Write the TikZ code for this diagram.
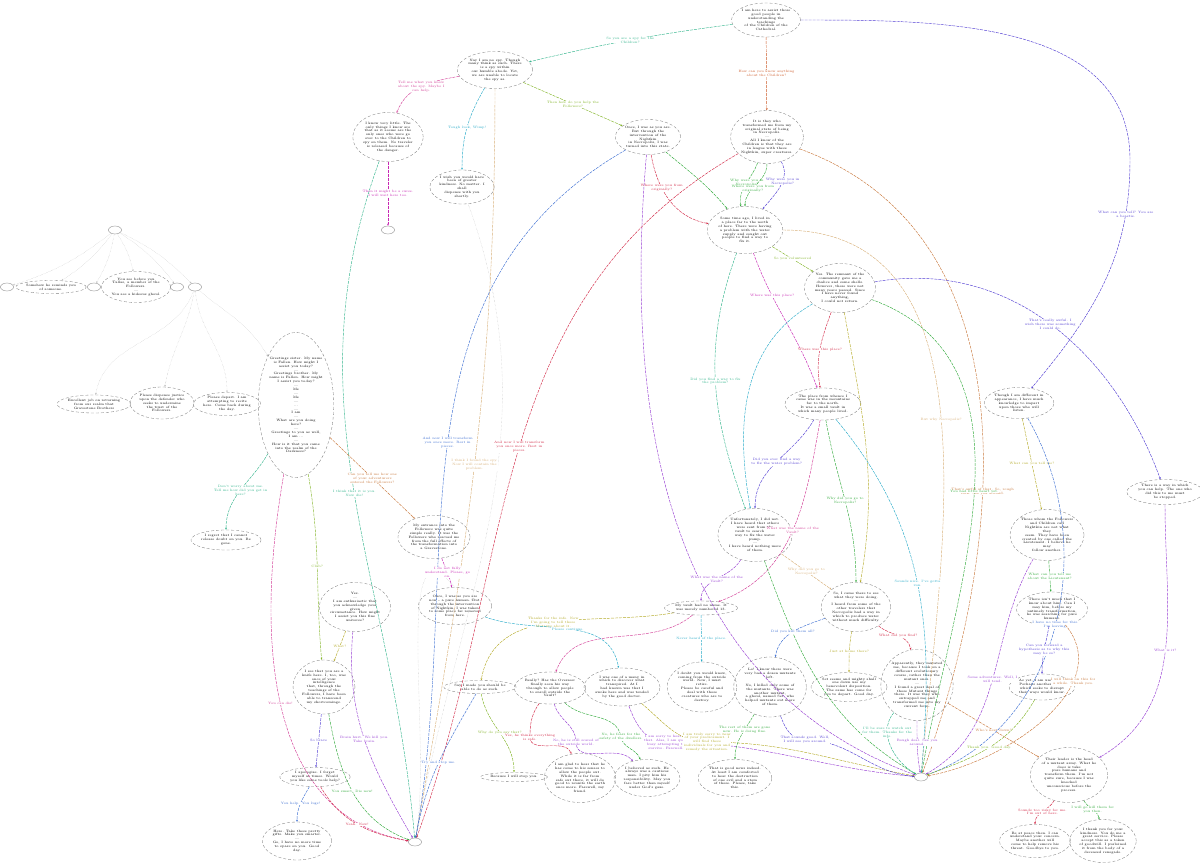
\documentclass[tikz,border=0pt]{standalone}
\usetikzlibrary{shapes.geometric,arrows.meta}
\definecolor{cTeal}{RGB}{50,180,140}
\definecolor{cOrange}{RGB}{205,90,40}
\definecolor{cBlue}{RGB}{80,60,210}
\definecolor{cPink}{RGB}{210,60,150}
\definecolor{cCyan}{RGB}{40,170,200}
\definecolor{cGreen}{RGB}{50,170,60}
\definecolor{cLime}{RGB}{130,180,40}
\definecolor{cRed}{RGB}{210,40,70}
\definecolor{cPurple}{RGB}{150,60,210}
\definecolor{cTan}{RGB}{215,175,120}
\definecolor{cOlive}{RGB}{180,170,40}
\definecolor{cGrey}{RGB}{185,185,185}
\definecolor{cRoyal}{RGB}{60,110,210}
\definecolor{cBrown}{RGB}{200,120,60}
\definecolor{cMag}{RGB}{200,40,180}
\tikzset{
 el/.style={ellipse,draw=gray,densely dashed,line width=0.35pt,inner sep=0pt,align=center,font=\fontsize{3.3}{3.9}\selectfont},
 dot/.style={ellipse,draw=gray,line width=0.35pt,minimum width=13,minimum height=8,inner sep=0pt},
 ed/.style={line width=0.45pt,dashed,dash pattern=on 3pt off 1pt,-{Stealth[length=2.2pt,width=1.8pt]}},
 gr/.style={line width=0.35pt,cGrey,densely dotted,-{Stealth[length=2pt,width=1.6pt]}},
 lb/.style={font=\fontsize{3.3}{3.9}\selectfont,align=center,fill=white,inner sep=0.3pt}
}
\newcommand\E[5][]{\draw[ed,#4,#1] (#2) to node[lb]{#5} (#3);}
\newcommand\Ep[6][]{\draw[ed,#4,#1] (#2) to node[lb,pos=#5]{#6} (#3);}
\begin{document}
\begin{tikzpicture}[x=1pt,y=-1pt]
\path[use as bounding box] (0,0) rectangle (1200,864);
% nodes
\node[el,minimum width=64,minimum height=34] (A) at (766,20) {I am here to assist those\\good people in\\understanding the\\teachings\\of the Children of the\\Cathedral.};
\node[el,minimum width=68,minimum height=37] (B) at (495,70) {Nay I am no spy. Though\\many think as such. There\\is a spy within\\our humble abode. Yet,\\we are unable to locate\\the spy as.};
\node[el,minimum width=65,minimum height=49] (C) at (388,137) {I know very little. The\\only things I know are\\that as it seems are the\\only ones who were go\\over to the Children to\\spy on them. No traveler\\is released because of\\the danger.};
\node[dot] (E) at (388,230) {};
\node[el,minimum width=55,minimum height=34] (D) at (462,187) {I wish you would have\\been of greater\\kindness. No matter. I\\shall\\dispense with you\\shortly.};
\node[el,minimum width=60,minimum height=35] (F) at (648,137) {Once, I was as you are.\\But through the\\intervention of the\\Nightkin\\in Necropolis, I was\\turned into this state.};
\node[el,minimum width=66,minimum height=53] (G) at (767,137) {It is they who\\transformed me from my\\original state of being\\in Necropolis.\\---\\All I know of the\\Children is that they are\\in league with these\\Nightkin, super creatures.};
\node[el,minimum width=66,minimum height=47] (H) at (745,230) {Some time ago, I lived in\\a place far to the north\\of here. There were having\\a problem with the water\\supply and sought out\\people to find a way to\\fix it.};
\node[el,minimum width=60,minimum height=49] (I) at (840,288) {Yes. The remnant of the\\community gave me a\\chalice and some shells.\\However, these were not\\many years passed. Since\\I have never found\\anything,\\I could not return.};
\node[el,minimum width=65,minimum height=32] (J) at (823,404) {The place from whence I\\came was in the mountains\\far to the north.\\It was a small vault in\\which many people lived.};
\node[el,minimum width=60,minimum height=31] (K) at (1019,403) {Though I am different in\\appearance, I have much\\knowledge to impart\\upon those who will\\listen.};
\node[el,minimum width=67,minimum height=25] (L) at (1165,492) {There is a way in which\\you can help. The one who\\did this to me must\\be stopped.};
\node[el,minimum width=59,minimum height=53] (M) at (755,535) {Unfortunately, I did not.\\I have heard that others\\were sent from the\\vault to search for a\\way to fix the water\\pump.\\---\\I have heard nothing more\\of them.};
\node[el,minimum width=68,minimum height=51] (N) at (1047,535) {Those whom the Followers\\and Children call\\Nightkin are not what\\they\\seem. They have been\\created by one called the\\Lieutenant. I believe he\\may\\follow another.};
\node[el,minimum width=64,minimum height=49] (O) at (856,607) {So, I came there to see\\what they were doing.\\---\\I heard from some of the\\other travelers that\\Necropolis had a way in\\which to produce water\\without much difficulty.};
\node[el,minimum width=67,minimum height=14] (P) at (701,608) {My vault had no name. It\\was merely numbered 13.};
\node[el,minimum width=68,minimum height=34] (Q) at (1052,609) {There isn't much that I\\know about him. Can I\\may him, before my\\untimely transformation,\\he was searching for pure\\humans.};
\node[el,minimum width=62,minimum height=26] (R) at (1042,687) {As yet, I am uncertain.\\Perhaps another group\\which seeks to disrupt\\their ways would know.};
\node[el,minimum width=63,minimum height=71] (W) at (917,685) {Apparently, they mutated\\me, because I took on a\\different evolutionary\\course, rather than the\\mutant ones.\\---\\I found a great deal of\\those Mutant things\\there. It was they who\\entrapped me and\\transformed me into my\\current form.};
\node[dot] (T) at (921,777) {};
\node[el,minimum width=68,minimum height=55] (S) at (1069,775) {Their leader is the head\\of a mutant army. What he\\does is take\\pure humans and\\transform them. I'm not\\quite sure, because I was\\knocked\\unconscious before the\\process.};
\node[el,minimum width=64,minimum height=33] (U) at (1035,841) {Be at peace then. I can\\understand your concern.\\Maybe another will\\come to help remove his\\threat. Goodbye to you.};
\node[el,minimum width=61,minimum height=43] (V) at (1103,841) {I thank you for your\\kindness. You do me a\\great service. Please\\accept this as a token\\of goodwill. I purloined\\it from the body of a\\deceased renegade.};
\node[el,minimum width=66,minimum height=37] (m8) at (455,606) {Once, I was as you are\\now - a pure human. But,\\through the intervention\\of Nightkin, I was taken\\to some place far removed\\from here.};
\node[el,minimum width=66,minimum height=13] (Y) at (480,687) {Say I made you should be\\able to do as such.};
\node[el,minimum width=65,minimum height=32] (Z) at (550,688) {Really? Has the Overseer\\finally seen his way\\through to allow people\\to enroll outside the\\Vault?};
\node[el,minimum width=71,minimum height=38] (AA) at (622,687) {I was one of a many in\\which to discover what\\transpired. At I\\had known was that I\\awoke here and was tended\\by the good doctor.};
\node[el,minimum width=62,minimum height=50] (AB) at (702,687) {I doubt you would know,\\coming from the outside\\world. Now, I must\\retire.\\Please be careful and\\deal with those\\creatures who are to\\destroy.};
\node[el,minimum width=66,minimum height=60] (AC) at (770,687) {Lo! I know there were\\very bad a dozen mutants\\left.\\---\\No, I killed only some of\\the mutants. There was\\another mutant,\\a ghoul, named Set, who\\helped mutants out more\\of them.};
\node[el,minimum width=66,minimum height=29] (AD) at (849,687) {Set seems and mighty shall\\one down use my\\benevolent disposition.\\The same has come for\\you to depart. Good day.};
\node[el,minimum width=60,minimum height=9] (AE) at (514,777) {Because I will stop you.};
\node[el,minimum width=65,minimum height=49] (AF) at (580,778) {I am glad to hear that he\\has come to his senses to\\allow the people out.\\While it is far from\\safe out there, it will do\\good to reunite the earth\\once more. Farewell, my\\friend.};
\node[el,minimum width=60,minimum height=37] (AG) at (647,778) {I believed as such. He\\always was a cautious\\man. I pity him his\\responsibility. May you\\fare better than myself\\under God's gaze.};
\node[el,minimum width=64,minimum height=37] (AH) at (735,778) {That is good news indeed.\\At least I am comforted\\to hear the destruction\\of one evil and a stem\\of these. Please, take\\this.};
% left cluster
\node[dot] (root) at (115,230) {};
\node[dot] (l1) at (7,287) {};
\node[el,minimum width=67,minimum height=13] (l2) at (51,287) {Somehow he reminds you\\of someone.};
\node[dot] (l3) at (94,287) {};
\node[el,minimum width=62,minimum height=31] (l4) at (136,287) {You see before you\\Tallas, a member of the\\Followers.\\---\\You see a hideous ghoul.};
\node[dot] (l5) at (177,287) {};
\node[dot] (l6) at (195,287) {};
\node[el,minimum width=66,minimum height=18] (m1) at (94,404) {Excellent job on returning\\from our realm that\\Gravestone Brothers};
\node[el,minimum width=61,minimum height=32] (m2) at (162,403) {Please dispense justice\\upon the defender who\\seeks to undermine\\the trust of the\\Followers.};
\node[el,minimum width=61,minimum height=23] (m3) at (227,404) {Please depart. I am\\attempting to recite\\here. Come back during\\the day.};
\node[el,minimum width=68,minimum height=145] (m4) at (296,405) {Greetings sister. My name\\is Fallen. How might I\\assist you today?\\---\\Greetings brother. My\\name is Fallen. How might\\I assist you today?\\---\\Me\\---\\Me\\---\\...\\---\\I am\\---\\What are you doing\\here?\\---\\Greetings to you as well,\\I am ...\\---\\How is it that you came\\into the realm of the\\Darkness?};
\node[el,minimum width=55,minimum height=20] (m5) at (226,540) {I regret that I cannot\\release doubt on you. Be\\gone.};
\node[el,minimum width=68,minimum height=43] (m6) at (434,537) {My entrance into the\\Followers was quite\\simple really. It was the\\Followers who rescued me\\from the full effects of\\the transformation into\\a Gravestone.};
\node[el,minimum width=63,minimum height=49] (m7) at (355,607) {Yes.\\---\\I am enthusiastic that\\you acknowledge your\\given\\circumstance. How might\\I assist you this fine\\universe?};
\node[el,minimum width=57,minimum height=54] (m9) at (324,687) {I see that you are a\\knife here. I, too, was\\once of your\\intelligence\\that, through the\\teachings of the\\Followers, I have been\\able to transcend\\my shortcomings.};
\node[el,minimum width=66,minimum height=19] (m10) at (315,777) {I apologize. I forget\\myself at times. Would\\you like some tools help?};
\node[el,minimum width=65,minimum height=38] (m11) at (297,841) {Here. Take these pretty\\gifts. Make you smarter.\\---\\Go, I have no more time\\to spare on you. Good\\day.};
\node[dot] (X) at (415,842) {};
% grey edges
\foreach \t in {l1,l2,l3,l4,l5,l6} \draw[gr] (root) to[bend left=10] (\t);
\draw[gr] (l6) to[out=250,in=80] (m1);
\draw[gr] (l6) to[out=260,in=80] (m2);
\draw[gr] (l6) to[out=275,in=90] (m3);
\draw[gr] (l6) to[out=320,in=120] (m4);
\draw[gr] (D) to[out=290,in=80] (X);
\draw[gr] (m8.north) to[out=130,in=80] (X);
% main edges
\E[bend right=3]{A}{B}{cTeal}{So you are a spy for the\\Children?}
\E{A}{G}{cOrange}{How can you know anything\\about the Children?}
\draw[ed,cBlue] (A) to[out=0,in=90] (1130,160) to[out=270,in=50] node[lb,pos=0.2]{What can you tell? You are\\a beastie.} (K);
\E[out=190,in=70]{B}{C}{cPink}{Tell me what you know\\about the spy. Maybe I\\can help.}
\E[out=240,in=90]{B}{D}{cCyan}{Tough luck, Wimp!}
\E{B}{F}{cLime}{Then how do you help the\\Followers?}
\E[out=270,in=80]{B}{X}{cTan}{I think I found the spy.\\Now I will contain the\\problem.}
\E{C}{E}{cMag}{Then it might be a curse.\\I will wait here too.}
\E[out=250,in=95]{C}{X}{cTeal}{I think that it is you.\\Now die!}
\E[out=210,in=80]{F}{X}{cRoyal}{And now I will transform\\you once more. Rest in\\pieces.}
\Ep[out=280,in=170]{F}{H}{cRed}{0.35}{Where were you from\\originally?}
\E[out=320,in=130]{F}{H}{cGreen}{}
\E[out=265,in=160]{F}{T}{cPurple}{}
\Ep[out=250,in=100]{G}{H}{cGreen}{0.45}{Why were you in\\Necropolis?}
\Ep[out=270,in=90]{G}{H}{cGreen}{0.6}{Where were you from\\originally?}
\Ep[out=300,in=50]{G}{H}{cBlue}{0.4}{Why were you in\\Necropolis?}
\E[out=210,in=70]{G}{X}{cRed}{And now I will transform\\you once more. Rest in\\pieces.}
\Ep[out=340,in=70]{G}{T}{cBrown}{0.62}{That's awful of that. So, rough\\luck. See you around.}
\E{H}{I}{cLime}{So you volunteered}
\Ep[out=290,in=110]{H}{J}{cMag}{0.3}{Where was this place?}
\E[out=250,in=110]{H}{M}{cTeal}{Did you find a way to fix\\the problem?}
\E[out=0,in=85]{H}{T}{cTan}{But why Necropolis?}
\E[out=250,in=100]{I}{J}{cRed}{Where was this place?}
\E[out=210,in=100]{I}{M}{cCyan}{}
\E[out=280,in=80]{I}{O}{cOlive}{}
\E[out=340,in=80]{I}{T}{cGreen}{You had little heart yet.}
\E[out=10,in=110]{I}{L}{cBlue}{That's really awful. I\\wish there was something\\I could do.}
\E[out=240,in=90]{J}{M}{cBlue}{Did you ever find a way\\to fix the water problem?}
\E[out=260,in=20]{J}{P}{cPink}{What was the name of the\\Vault?}
\E[out=280,in=90]{J}{O}{cGreen}{Why did you go to\\Necropolis?}
\E[out=310,in=85]{J}{T}{cCyan}{Sounds nice. I've gotta\\run.}
\E[out=240,in=90]{M}{P}{cPurple}{What was the name of the\\Vault?}
\E{M}{O}{cTan}{Why did you go to\\Necropolis?}
\E[out=290,in=150]{M}{T}{cGreen}{}
\E[out=200,in=80]{O}{AC}{cRoyal}{Did you kill them all?}
\E[out=260,in=90]{O}{AD}{cOlive}{Just at home there?}
\E[out=320,in=100]{O}{W}{cRed}{What did you find?}
\E{P}{AB}{cCyan}{Never heard of the place.}
\E[out=190,in=80]{P}{Y}{cOlive}{Thanks for the info. Now\\I'm going to tell those\\Mutants about it.}
\E[out=220,in=70]{P}{Z}{cPink}{}
\E[out=-20,in=100]{m8}{AA}{cCyan}{Please continue.}
\E[out=280,in=90]{Y}{AE}{cLime}{Why do you say that?}
\E[out=240,in=80]{Y}{X}{cRoyal}{Try and stop me.}
\draw[ed,cRed] (Z) to[out=235,in=90] (530,737) node[lb]{Yes, he thinks everything\\is safe.} to[out=270,in=110] (AF);
\draw[ed,cPurple] (Z) to[out=285,in=90] (576,742) node[lb]{No, he is still scared of\\the outside world.} to[out=270,in=130] (AG);
\draw[ed,cGreen] (Z) to[out=315,in=100] (621,737) node[lb]{No, he fears for the\\safety of the dwellers.} to[out=280,in=110] (AG);
\draw[ed,cPurple] (AA) to[out=290,in=180] (666,742) node[lb]{I am sorry to hear of\\that. Alas, I am quite\\busy attempting to\\survive. Farewell.} to[out=0,in=175] (T);
\draw[ed,cOlive] (AA) to[out=320,in=180] (707,742) node[lb]{I am truly sorry to hear\\of your predicament. I\\will find these\\individuals for you and\\remedy the situation.} to[out=0,in=170] (T);
\Ep[out=240,in=90]{AC}{AH}{cGreen}{0.35}{The rest of them are gone\\now. He is doing fine.}
\draw[ed,cBlue] (AC) to[out=290,in=180] (805,740) node[lb]{That sounds good. Well,\\I will see you around.} to[out=0,in=175] (T);
\Ep[out=230,in=150]{W}{T}{cTeal}{0.3}{I'll be sure to watch out\\for them. Thanks for the\\info.}
\Ep[out=270,in=100]{W}{T}{cPurple}{0.4}{Rough deal. See you\\around.}
\E{W}{S}{cBrown}{Who's next down?}
\E{K}{N}{cOlive}{What can you tell me?}
\E[out=300,in=20]{K}{T}{cRoyal}{I have no time for this.\\I'm leaving.}
\E{N}{Q}{cGreen}{What can you tell me\\about the Lieutenant?}
\E[out=240,in=30]{N}{T}{cPurple}{Some adventures. Well, I\\will tend.}
\E[out=260,in=90]{Q}{R}{cBlue}{Can you forward a\\hypothesis as to why this\\may be so?}
\Ep[out=310,in=10]{Q}{T}{cBrown}{0.3}{I will think on this for\\a while. Thank you.}
\E[out=240,in=20]{R}{T}{cLime}{Thank you. Good day.}
\E[out=270,in=30]{L}{S}{cPurple}{What is it?}
\E[out=240,in=90]{S}{U}{cRed}{Sounds too risky for me.\\I'm out of here.}
\E[out=300,in=100]{S}{V}{cGreen}{I will go kill them for\\you then.}
% left dialogue
\E[out=240,in=90]{m4}{m5}{cTeal}{Don't worry about me.\\Tell me how did you get in\\here?}
\E{m4}{m6}{cBrown}{Can you tell me how one\\of your adventurers\\entered the Followers?}
\E[out=280,in=95]{m4}{m9}{cLime}{Club?}
\E[out=260,in=170]{m4}{X}{cPink}{You can die!}
\E[out=290,in=100]{m6}{m8}{cMag}{I do not fully\\understand. Please, go\\on.}
\E{m7}{m9}{cOlive}{What?}
\E[out=265,in=120]{m7}{X}{cPurple}{Brain hurt. We kill you.\\Take brain.}
\E[out=280,in=160]{m9}{X}{cGreen}{You smart. Die now!}
\E{m9}{m10}{cBlue}{So brave}
\E[out=240,in=90]{m10}{m11}{cRoyal}{You help. You lugs!}
\E[out=300,in=170]{m10}{X}{cRed}{Yeah. Now!}
\end{tikzpicture}
\end{document}
